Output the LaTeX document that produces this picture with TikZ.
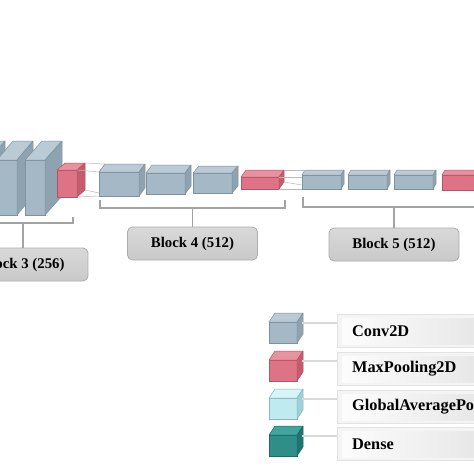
\documentclass[tikz,border=0pt]{standalone}
\usepackage{fontspec}
\setmainfont{Liberation Serif}
\usetikzlibrary{calc}
\definecolor{convfront}{HTML}{A4B9C5}
\definecolor{convtop}{HTML}{BACBD5}
\definecolor{convside}{HTML}{8EA3AF}
\definecolor{convedge}{HTML}{7D929E}
\definecolor{poolfront}{HTML}{DE7385}
\definecolor{pooltop}{HTML}{E9919F}
\definecolor{poolside}{HTML}{C45C6D}
\definecolor{pooledge}{HTML}{B0566A}
\definecolor{gapfront}{HTML}{BEEAF0}
\definecolor{gaptop}{HTML}{D8F4F7}
\definecolor{gapside}{HTML}{9FD0D6}
\definecolor{gapedge}{HTML}{88B8BE}
\definecolor{densefront}{HTML}{2F8E88}
\definecolor{densetop}{HTML}{41A49E}
\definecolor{denseside}{HTML}{21736E}
\definecolor{denseedge}{HTML}{1E6A65}
\definecolor{brk}{HTML}{A3A3A3}
\tikzset{
  cubefront/.style={fill=#1front, draw=#1edge, line width=0.5pt, inner sep=0pt, outer sep=0pt},
  cubetop/.style={fill=#1top, draw=#1edge, line width=0.5pt, line join=round},
  cubeside/.style={fill=#1side, draw=#1edge, line width=0.5pt, line join=round},
  bracket/.style={draw=brk, line width=1.2pt},
  funnel/.style={draw=gray!55, line width=0.5pt},
  blocklabel/.style={rounded corners=5pt, draw=gray!65, line width=0.8pt,
    top color=gray!30, middle color=gray!3, bottom color=gray!42,
    minimum width=130pt, minimum height=33pt, inner sep=0pt,
    font=\fontsize{14.8}{16}\selectfont\bfseries},
  band/.style={fill=gray!9, draw=gray!22, line width=1pt, minimum width=150pt,
    minimum height=33pt, inner sep=0pt, anchor=north west},
  legtext/.style={anchor=west, inner sep=0pt, font=\fontsize{16.3}{18}\selectfont\bfseries},
  legline/.style={draw=gray!30, line width=1.6pt}
}
% name, x, y(top), w, h, dx, dy(up), kind
\newcommand\cubeblk[8]{%
  \node[cubefront=#8, minimum width=#4pt, minimum height=#5pt, anchor=north west] (#1) at (#2,#3) {};
  \filldraw[cubetop=#8] (#1.north west) -- ++(#6,-#7) -- ++(#4,0) -- (#1.north east) -- cycle;
  \filldraw[cubeside=#8] (#1.north east) -- ++(#6,-#7) -- ++(0,#5) -- (#1.south east) -- cycle;
}
\begin{document}
\begin{tikzpicture}[x=1pt,y=-1pt]
\useasboundingbox (0,0) rectangle (474,474);
\clip (0,0) rectangle (474,474);
\fill[white] (0,0) rectangle (474,474);

% ---- Block 3 (partially visible)
\cubeblk{b3c1}{-31}{160}{20}{55}{16}{19}{conv}
\cubeblk{b3c2}{-3}{160}{20}{55}{16}{19}{conv}
\cubeblk{b3c3}{25}{160}{20}{55}{17}{19}{conv}
\cubeblk{b3p}{57}{170}{20}{27}{8}{7}{pool}

% ---- Block 4
\cubeblk{b4c1}{99}{172}{40}{24}{6}{8}{conv}
\cubeblk{b4c2}{146}{173}{39}{21}{6}{8}{conv}
\cubeblk{b4c3}{193}{173}{39}{20}{6}{7}{conv}
\cubeblk{b4p}{241}{177}{38}{12}{5}{7}{pool}

% ---- Block 5
\cubeblk{b5c1}{302}{175}{39}{14}{3}{5}{conv}
\cubeblk{b5c2}{348}{175}{39}{14}{3}{5}{conv}
\cubeblk{b5c3}{394}{175}{39}{14}{3}{5}{conv}
\cubeblk{b5p}{442}{175}{40}{15}{3}{5}{pool}

% ---- funnel lines between blocks
\draw[funnel] ($(b3p.north east)+(8,-7)$) -- ($(b4c1.north west)+(6,-8)$);
\draw[funnel] (b3p.north east) -- (b4c1.north west);
\draw[funnel] ($(b3p.south east)+(8,-7)$) -- ($(b4c1.south west)+(0,-3)$);
\draw[funnel] (b3p.south east) -- (b4c1.south west);
\draw[funnel] ($(b4p.north east)+(5,-7)$) -- ($(b5c1.north west)+(3,-5)$);
\draw[funnel] (b4p.north east) -- ($(b5c1.north west)+(0,2)$);
\draw[funnel] ($(b4p.south east)+(5,-7)$) -- ($(b5c1.south west)+(0,-4)$);
\draw[funnel] (b4p.south east) -- (b5c1.south west);

% ---- brackets and labels
\coordinate (k3L) at (-10,223);
\coordinate (k3R) at (73,223);
\draw[bracket] (k3L) -- (k3R) -- ++(0,-6);
\node[blocklabel] (lb3) at (23,264.5) {Block 3 (256)};
\draw[bracket] (lb3.north) -- (lb3.north |- k3L);

\coordinate (k4L) at (100,208);
\coordinate (k4R) at (285,208);
\draw[bracket] ($(k4L)+(0,-8)$) -- (k4L) -- (k4R) -- ++(0,-8);
\node[blocklabel] (lb4) at (192.5,243.5) {Block 4 (512)};
\draw[bracket] (lb4.north) -- (lb4.north |- k4L);

\coordinate (k5L) at (303,207);
\coordinate (k5R) at (480,207);
\draw[bracket] ($(k5L)+(0,-10)$) -- (k5L) -- (k5R);
\node[blocklabel] (lb5) at (394,244.5) {Block 5 (512)};
\draw[bracket] (lb5.north) -- (lb5.north |- k5L);

% ---- legend
\foreach \nm/\yy/\kind/\txt in {lconv/322/conv/Conv2D, lpool/360/pool/MaxPooling2D, lgap/398/gap/GlobalAveragePooling2D, ldense/435/dense/Dense}{
  \pgfmathsetmacro{\by}{\yy-8}
  \node[band] (\nm band) at (337,\by) {};
  \shade[left color=gray!2, right color=gray!20] ($(\nm band.north west)+(5,4)$) rectangle ($(\nm band.south east)+(0,-4)$);
  \cubeblk{\nm}{269}{\yy}{28}{21}{6}{9}{\kind}
  \path (\nm.north east) ++(5,1) coordinate (\nm c);
  \draw[legline] (\nm c) -- (\nm c -| \nm band.west);
  \node[legtext] (\nm t) at ($(\nm band.west)+(15,0)$) {\txt};
}
\end{tikzpicture}
\end{document}
